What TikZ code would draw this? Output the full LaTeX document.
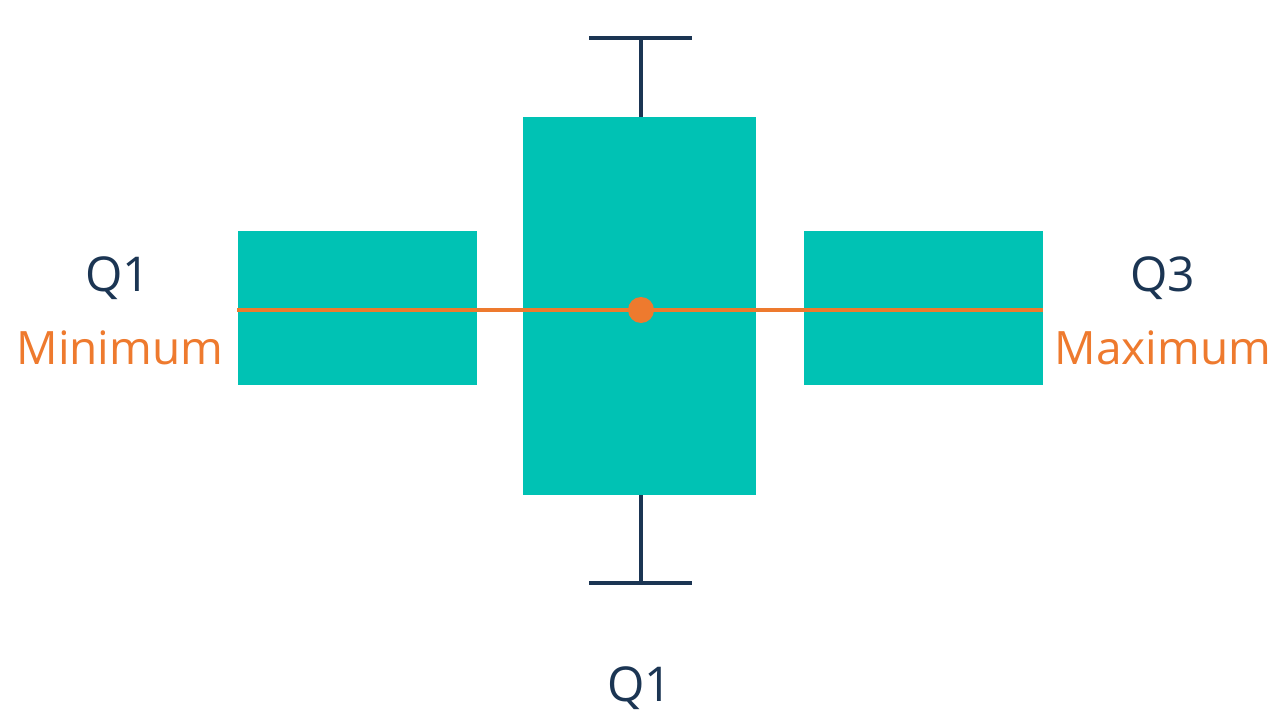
\documentclass[tikz,border=0pt]{standalone}
\usepackage{fontspec}
\setmainfont{Open Sans}
\definecolor{teal1}{HTML}{00C2B4}
\definecolor{navy}{HTML}{1B3553}
\definecolor{org}{HTML}{EE7A2E}
\begin{document}
\begin{tikzpicture}[x=0.75pt,y=-0.75pt,
  boxst/.style={fill=teal1,draw=none},
  whisk/.style={draw=navy,line width=3.3pt},
  lbl/.style={font=\fontsize{36}{40}\selectfont,text=navy,inner sep=0},
  olbl/.style={font=\fontsize{34.5}{38}\selectfont,text=org,inner sep=0}]
\useasboundingbox (0,0) rectangle (1280,720);
\fill[boxst] (238,231) rectangle (477,385);
\fill[boxst] (523,117) rectangle (756,495);
\fill[boxst] (804,231) rectangle (1043,385);
\coordinate (tc) at (641,38); \coordinate (tl) at (589,38); \coordinate (tr) at (692,38);
\coordinate (tb) at (641,117);
\coordinate (bc) at (641,583); \coordinate (bl) at (589,583); \coordinate (br) at (692,583);
\coordinate (bt) at (641,495);
\draw[whisk] (tb) -- (tc); \draw[whisk] (tl) -- (tr);
\draw[whisk] (bt) -- (bc); \draw[whisk] (bl) -- (br);
\coordinate (la) at (237,310); \coordinate (ra) at (1043,310);
\draw[org,line width=3pt] (la) -- (ra);
\fill[org] (641,310) circle (13);
\node[lbl] (q1) at (118,278) {Q1};
\node[olbl] (mn) at (120,348) {Minimum};
\node[lbl] (q3) at (1163,278) {Q3};
\node[olbl] (mx) at (1163,348) {Maximum};
\node[lbl] (q1b) at (640,688) {Q1};
\end{tikzpicture}
\end{document}
